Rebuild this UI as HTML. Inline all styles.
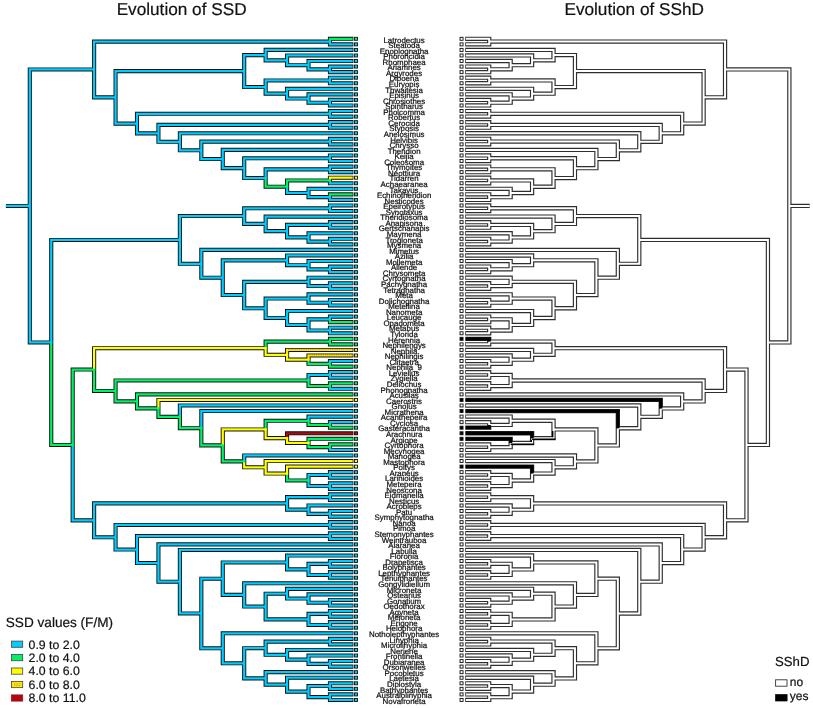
<!DOCTYPE html>
<html lang="en"><head><meta charset="utf-8"><title>Evolution of SSD and SShD</title>
<style>
html,body{margin:0;padding:0;background:#fff;}
body{width:813px;height:708px;overflow:hidden;font-family:"Liberation Sans",Arial,sans-serif;}
svg{display:block;}
</style></head><body>
<svg width="813" height="708" viewBox="0 0 813 708">
<rect width="813" height="708" fill="#fff"/>
<defs><filter id="soft" x="0" y="0" width="813" height="708" filterUnits="userSpaceOnUse"><feGaussianBlur stdDeviation="0.35"/></filter></defs>
<g filter="url(#soft)">
<path d="M5.9 205.95H29.8M29.8 205.95V69.46H94.12M94.12 69.46V41.58H329.96M329.96 41.58V38.8H353.4M329.96 41.58V44.36H353.4M94.12 69.46V97.33H115.56M115.56 97.33V71.09H244.2M244.2 71.09V55.12H265.64M265.64 55.12V49.91H353.4M265.64 55.12V60.33H287.08M287.08 60.33V55.47H353.4M287.08 60.33V65.19H308.52M308.52 65.19V61.02H353.4M308.52 65.19V69.36H329.96M329.96 69.36V66.58H353.4M329.96 69.36V72.14H353.4M244.2 71.09V87.07H265.64M265.64 87.07V80.47H329.96M329.96 80.47V77.69H353.4M329.96 80.47V83.25H353.4M265.64 87.07V93.66H287.08M287.08 93.66V88.8H353.4M287.08 93.66V98.53H308.52M308.52 98.53V94.36H353.4M308.52 98.53V102.69H329.96M329.96 102.69V99.91H353.4M329.96 102.69V105.47H353.4M115.56 97.33V123.58H137M137 123.58V113.8H329.96M329.96 113.8V111.03H353.4M329.96 113.8V116.58H353.4M137 123.58V133.35H158.44M158.44 133.35V124.92H329.96M329.96 124.92V122.14H353.4M329.96 124.92V127.69H353.4M158.44 133.35V141.78H179.88M179.88 141.78V133.25H353.4M179.88 141.78V150.31H201.32M201.32 150.31V141.58H329.96M329.96 141.58V138.81H353.4M329.96 141.58V144.36H353.4M201.32 150.31V159.03H222.76M222.76 159.03V149.92H353.4M222.76 159.03V168.15H244.2M244.2 168.15V158.25H329.96M329.96 158.25V155.47H353.4M329.96 158.25V161.03H353.4M244.2 168.15V178.04H265.64M265.64 178.04V169.36H329.96M329.96 169.36V166.59H353.4M329.96 169.36V172.14H353.4M265.64 178.04V186.73H287.08M287.08 186.73V180.47H329.96M329.96 180.47V177.7H353.4M329.96 180.47V183.25H353.4M287.08 186.73V192.98H308.52M308.52 192.98V188.81H353.4M308.52 192.98V197.14H329.96M329.96 197.14V194.36H353.4M329.96 197.14V199.92H353.4M29.8 205.95V342.44H51.24M51.24 342.44V239.94H179.88M179.88 239.94V216.07H244.2M244.2 216.07V208.25H329.96M329.96 208.25V205.48H353.4M329.96 208.25V211.03H353.4M244.2 216.07V223.88H265.64M265.64 223.88V216.59H353.4M265.64 223.88V231.17H287.08M287.08 231.17V224.92H329.96M329.96 224.92V222.14H353.4M329.96 224.92V227.7H353.4M287.08 231.17V237.42H308.52M308.52 237.42V233.26H353.4M308.52 237.42V241.59H329.96M329.96 241.59V238.81H353.4M329.96 241.59V244.37H353.4M179.88 239.94V263.81H201.32M201.32 263.81V249.92H353.4M201.32 263.81V277.7H222.76M222.76 277.7V260.34H287.08M287.08 260.34V255.48H353.4M287.08 260.34V265.2H308.52M308.52 265.2V261.04H353.4M308.52 265.2V269.37H329.96M329.96 269.37V266.59H353.4M329.96 269.37V272.15H353.4M222.76 277.7V295.07H244.2M244.2 295.07V281.87H308.52M308.52 281.87V277.7H353.4M308.52 281.87V286.04H329.96M329.96 286.04V283.26H353.4M329.96 286.04V288.81H353.4M244.2 295.07V308.26H265.64M265.64 308.26V298.54H308.52M308.52 298.54V294.37H353.4M308.52 298.54V302.7H329.96M329.96 302.7V299.93H353.4M329.96 302.7V305.48H353.4M265.64 308.26V317.98H287.08M287.08 317.98V311.04H353.4M287.08 317.98V324.93H308.52M308.52 324.93V319.37H329.96M329.96 319.37V316.59H353.4M329.96 319.37V322.15H353.4M308.52 324.93V330.48H329.96M329.96 330.48V327.71H353.4M329.96 330.48V333.26H353.4M51.24 342.44V444.95H72.68M72.68 444.95V369.56H94.12M94.12 369.56V348.19H265.64M265.64 348.19V341.6H329.96M329.96 341.6V338.82H353.4M329.96 341.6V344.37H353.4M265.64 348.19V354.79H287.08M287.08 354.79V349.93H353.4M287.08 354.79V359.65H308.52M308.52 359.65V355.49H353.4M308.52 359.65V363.82H329.96M329.96 363.82V361.04H353.4M329.96 363.82V366.6H353.4M94.12 369.56V390.94H115.56M115.56 390.94V380.49H308.52M308.52 380.49V374.93H329.96M329.96 374.93V372.15H353.4M329.96 374.93V377.71H353.4M308.52 380.49V386.04H329.96M329.96 386.04V383.26H353.4M329.96 386.04V388.82H353.4M115.56 390.94V401.39H137M137 401.39V394.38H353.4M137 401.39V408.4H158.44M158.44 408.4V399.93H353.4M158.44 408.4V416.86H179.88M179.88 416.86V405.49H353.4M179.88 416.86V428.23H201.32M201.32 428.23V411.04H353.4M201.32 428.23V445.42H222.76M222.76 445.42V429.45H265.64M265.64 429.45V420.77H308.52M308.52 420.77V416.6H353.4M308.52 420.77V424.93H329.96M329.96 424.93V422.16H353.4M329.96 424.93V427.71H353.4M265.64 429.45V438.13H287.08M287.08 438.13V433.27H353.4M287.08 438.13V442.99H308.52M308.52 442.99V438.82H353.4M308.52 442.99V447.16H329.96M329.96 447.16V444.38H353.4M329.96 447.16V449.94H353.4M222.76 445.42V461.39H244.2M244.2 461.39V455.49H353.4M244.2 461.39V467.3H265.64M265.64 467.3V461.05H353.4M265.64 467.3V473.55H287.08M287.08 473.55V466.6H353.4M287.08 473.55V480.49H308.52M308.52 480.49V474.94H329.96M329.96 474.94V472.16H353.4M329.96 474.94V477.71H353.4M308.52 480.49V486.05H329.96M329.96 486.05V483.27H353.4M329.96 486.05V488.83H353.4M72.68 444.95V520.33H94.12M94.12 520.33V503.41H287.08M287.08 503.41V497.16H329.96M329.96 497.16V494.38H353.4M329.96 497.16V499.94H353.4M287.08 503.41V509.66H308.52M308.52 509.66V505.49H353.4M308.52 509.66V513.83H329.96M329.96 513.83V511.05H353.4M329.96 513.83V516.61H353.4M94.12 520.33V537.25H115.56M115.56 537.25V524.94H329.96M329.96 524.94V522.16H353.4M329.96 524.94V527.72H353.4M115.56 537.25V549.55H137M137 549.55V536.05H329.96M329.96 536.05V533.27H353.4M329.96 536.05V538.83H353.4M137 549.55V563.05H158.44M158.44 563.05V544.39H353.4M158.44 563.05V581.71H179.88M179.88 581.71V549.94H353.4M179.88 581.71V613.49H201.32M201.32 613.49V578.68H222.76M222.76 578.68V562.44H287.08M287.08 562.44V555.5H353.4M287.08 562.44V569.39H308.52M308.52 569.39V563.83H329.96M329.96 563.83V561.05H353.4M329.96 563.83V566.61H353.4M308.52 569.39V574.94H329.96M329.96 574.94V572.16H353.4M329.96 574.94V577.72H353.4M222.76 578.68V594.91H244.2M244.2 594.91V583.28H353.4M244.2 594.91V606.54H265.64M265.64 606.54V593.69H287.08M287.08 593.69V588.83H353.4M287.08 593.69V598.56H308.52M308.52 598.56V594.39H353.4M308.52 598.56V602.72H329.96M329.96 602.72V599.94H353.4M329.96 602.72V605.5H353.4M265.64 606.54V619.39H308.52M308.52 619.39V613.83H329.96M329.96 613.83V611.06H353.4M329.96 613.83V616.61H353.4M308.52 619.39V624.95H329.96M329.96 624.95V622.17H353.4M329.96 624.95V627.72H353.4M201.32 613.49V648.3H222.76M222.76 648.3V633.28H353.4M222.76 648.3V663.32H244.2M244.2 663.32V648.21H265.64M265.64 648.21V641.61H329.96M329.96 641.61V638.84H353.4M329.96 641.61V644.39H353.4M265.64 648.21V654.81H287.08M287.08 654.81V649.95H353.4M287.08 654.81V659.67H308.52M308.52 659.67V655.5H353.4M308.52 659.67V663.84H329.96M329.96 663.84V661.06H353.4M329.96 663.84V666.61H353.4M244.2 663.32V678.42H265.64M265.64 678.42V672.17H353.4M265.64 678.42V684.67H287.08M287.08 684.67V677.73H353.4M287.08 684.67V691.62H308.52M308.52 691.62V686.06H329.96M329.96 686.06V683.28H353.4M329.96 686.06V688.84H353.4M308.52 691.62V697.17H329.96M329.96 697.17V694.39H353.4M329.96 697.17V699.95H353.4" fill="none" stroke="#111" stroke-width="4.1" stroke-linejoin="miter" stroke-linecap="butt"/>
<path d="M5.9 205.95H29.8M29.8 205.95V69.46H94.12M94.12 69.46V41.58H329.96M329.96 41.58V44.36H352.7M94.12 69.46V97.33H115.56M115.56 97.33V71.09H244.2M244.2 71.09V55.12H265.64M265.64 55.12V49.91H352.7M265.64 55.12V60.33H287.08M287.08 60.33V55.47H352.7M287.08 60.33V65.19H308.52M308.52 65.19V61.02H352.7M308.52 65.19V69.36H329.96M329.96 69.36V66.58H352.7M329.96 69.36V72.14H352.7M244.2 71.09V87.07H265.64M265.64 87.07V80.47H329.96M329.96 80.47V77.69H352.7M329.96 80.47V83.25H352.7M265.64 87.07V93.66H287.08M287.08 93.66V88.8H352.7M287.08 93.66V98.53H308.52M308.52 98.53V94.36H352.7M308.52 98.53V102.69H329.96M329.96 102.69V99.91H352.7M329.96 102.69V105.47H352.7M115.56 97.33V123.58H137M137 123.58V113.8H329.96M329.96 113.8V111.03H352.7M329.96 113.8V116.58H352.7M137 123.58V133.35H158.44M158.44 133.35V124.92H329.96M329.96 124.92V122.14H352.7M329.96 124.92V127.69H352.7M158.44 133.35V141.78H179.88M179.88 141.78V133.25H352.7M179.88 141.78V150.31H201.32M201.32 150.31V141.58H329.96M329.96 141.58V138.81H352.7M329.96 141.58V144.36H352.7M201.32 150.31V159.03H222.76M222.76 159.03V149.92H352.7M222.76 159.03V168.15H244.2M244.2 168.15V158.25H329.96M329.96 158.25V155.47H352.7M329.96 158.25V161.03H352.7M244.2 168.15V178.04H265.64M265.64 178.04V169.36H329.96M329.96 169.36V166.59H352.7M329.96 169.36V172.14H352.7M329.96 180.47V183.25H352.7M287.08 186.73V192.98H308.52M308.52 192.98V188.81H352.7M308.52 192.98V197.14H329.96M329.96 197.14V199.92H352.7M29.8 205.95V342.44H51.24M51.24 342.44V239.94H179.88M179.88 239.94V216.07H244.2M244.2 216.07V208.25H329.96M329.96 208.25V205.48H352.7M329.96 208.25V211.03H352.7M244.2 216.07V223.88H265.64M265.64 223.88V216.59H352.7M265.64 223.88V231.17H287.08M287.08 231.17V224.92H329.96M329.96 224.92V222.14H352.7M329.96 224.92V227.7H352.7M287.08 231.17V237.42H308.52M308.52 237.42V233.26H352.7M308.52 237.42V241.59H329.96M329.96 241.59V238.81H352.7M329.96 241.59V244.37H352.7M179.88 239.94V263.81H201.32M201.32 263.81V249.92H352.7M201.32 263.81V277.7H222.76M222.76 277.7V260.34H287.08M287.08 260.34V255.48H352.7M287.08 260.34V265.2H308.52M308.52 265.2V261.04H352.7M308.52 265.2V269.37H329.96M329.96 269.37V266.59H352.7M329.96 269.37V272.15H352.7M222.76 277.7V295.07H244.2M244.2 295.07V281.87H308.52M308.52 281.87V277.7H352.7M308.52 281.87V286.04H329.96M329.96 286.04V283.26H352.7M329.96 286.04V288.81H352.7M244.2 295.07V308.26H265.64M265.64 308.26V298.54H308.52M308.52 298.54V294.37H352.7M308.52 298.54V302.7H329.96M329.96 302.7V299.93H352.7M329.96 302.7V305.48H352.7M265.64 308.26V317.98H287.08M287.08 317.98V311.04H352.7M287.08 317.98V324.93H308.52M308.52 324.93V319.37H329.96M329.96 319.37V316.59H352.7M308.52 324.93V330.48H329.96M329.96 330.48V327.71H352.7M329.96 330.48V333.26H352.7M329.96 363.82V361.04H352.7M308.52 380.49V374.93H329.96M329.96 374.93V372.15H352.7M329.96 374.93V377.71H352.7M329.96 386.04V388.82H352.7M179.88 416.86V405.49H352.7M201.32 428.23V411.04H352.7M308.52 420.77V416.6H352.7M329.96 424.93V422.16H352.7M329.96 447.16V449.94H352.7M244.2 461.39V455.49H352.7M308.52 480.49V474.94H329.96M329.96 474.94V472.16H352.7M329.96 474.94V477.71H352.7M308.52 480.49V486.05H329.96M329.96 486.05V483.27H352.7M329.96 486.05V488.83H352.7M72.68 444.95V520.33H94.12M94.12 520.33V503.41H287.08M287.08 503.41V497.16H329.96M329.96 497.16V494.38H352.7M329.96 497.16V499.94H352.7M287.08 503.41V509.66H308.52M308.52 509.66V505.49H352.7M308.52 509.66V513.83H329.96M329.96 513.83V511.05H352.7M329.96 513.83V516.61H352.7M94.12 520.33V537.25H115.56M115.56 537.25V524.94H329.96M329.96 524.94V522.16H352.7M329.96 524.94V527.72H352.7M115.56 537.25V549.55H137M137 549.55V536.05H329.96M329.96 536.05V533.27H352.7M329.96 536.05V538.83H352.7M137 549.55V563.05H158.44M158.44 563.05V544.39H352.7M158.44 563.05V581.71H179.88M179.88 581.71V549.94H352.7M179.88 581.71V613.49H201.32M201.32 613.49V578.68H222.76M222.76 578.68V562.44H287.08M287.08 562.44V555.5H352.7M287.08 562.44V569.39H308.52M308.52 569.39V563.83H329.96M329.96 563.83V561.05H352.7M329.96 563.83V566.61H352.7M308.52 569.39V574.94H329.96M329.96 574.94V572.16H352.7M329.96 574.94V577.72H352.7M222.76 578.68V594.91H244.2M244.2 594.91V583.28H352.7M244.2 594.91V606.54H265.64M265.64 606.54V593.69H287.08M287.08 593.69V588.83H352.7M287.08 593.69V598.56H308.52M308.52 598.56V594.39H352.7M308.52 598.56V602.72H329.96M329.96 602.72V599.94H352.7M329.96 602.72V605.5H352.7M265.64 606.54V619.39H308.52M308.52 619.39V613.83H329.96M329.96 613.83V611.06H352.7M329.96 613.83V616.61H352.7M308.52 619.39V624.95H329.96M329.96 624.95V622.17H352.7M329.96 624.95V627.72H352.7M201.32 613.49V648.3H222.76M222.76 648.3V633.28H352.7M222.76 648.3V663.32H244.2M244.2 663.32V648.21H265.64M265.64 648.21V641.61H329.96M329.96 641.61V638.84H352.7M329.96 641.61V644.39H352.7M265.64 648.21V654.81H287.08M287.08 654.81V649.95H352.7M287.08 654.81V659.67H308.52M308.52 659.67V655.5H352.7M308.52 659.67V663.84H329.96M329.96 663.84V661.06H352.7M329.96 663.84V666.61H352.7M244.2 663.32V678.42H265.64M265.64 678.42V672.17H352.7M265.64 678.42V684.67H287.08M287.08 684.67V677.73H352.7M287.08 684.67V691.62H308.52M308.52 691.62V686.06H329.96M329.96 686.06V683.28H352.7M329.96 686.06V688.84H352.7M308.52 691.62V697.17H329.96M329.96 697.17V694.39H352.7M329.96 697.17V699.95H352.7" fill="none" stroke="#00ccff" stroke-width="2.25" stroke-linejoin="miter" stroke-linecap="butt"/>
<path d="M329.96 41.58V38.8H352.7M265.64 178.04V186.73H287.08M287.08 186.73V180.47H329.96M329.96 197.14V194.36H352.7M329.96 319.37V322.15H352.7M51.24 342.44V444.95H72.68M72.68 444.95V369.56H94.12M265.64 348.19V341.6H329.96M329.96 341.6V338.82H352.7M329.96 341.6V344.37H352.7M308.52 359.65V363.82H329.96M329.96 363.82V366.6H352.7M94.12 369.56V390.94H115.56M115.56 390.94V380.49H308.52M308.52 380.49V386.04H329.96M329.96 386.04V383.26H352.7M115.56 390.94V401.39H137M137 401.39V394.38H352.7M137 401.39V408.4H158.44M158.44 408.4V416.86H179.88M179.88 416.86V428.23H201.32M201.32 428.23V445.42H222.76M265.64 429.45V420.77H308.52M308.52 420.77V424.93H329.96M329.96 424.93V427.71H352.7M308.52 442.99V438.82H352.7M308.52 442.99V447.16H329.96M329.96 447.16V444.38H352.7M222.76 445.42V461.39H244.2M287.08 473.55V480.49H308.52" fill="none" stroke="#00f266" stroke-width="2.25" stroke-linejoin="miter" stroke-linecap="butt"/>
<path d="M329.96 180.47V177.7H352.7M94.12 369.56V348.19H265.64M265.64 348.19V354.79H287.08M287.08 354.79V359.65H308.52M158.44 408.4V399.93H352.7M222.76 445.42V429.45H265.64M265.64 429.45V438.13H287.08M287.08 438.13V442.99H308.52M244.2 461.39V467.3H265.64M265.64 467.3V461.05H352.7M265.64 467.3V473.55H287.08M287.08 473.55V466.6H352.7" fill="none" stroke="#ffff00" stroke-width="2.25" stroke-linejoin="miter" stroke-linecap="butt"/>
<path d="M287.08 354.79V349.93H352.7M308.52 359.65V355.49H352.7" fill="none" stroke="#ffe600" stroke-width="2.25" stroke-linejoin="miter" stroke-linecap="butt"/>
<path d="M287.08 438.13V433.27H352.7" fill="none" stroke="#aa0a14" stroke-width="2.25" stroke-linejoin="miter" stroke-linecap="butt"/>
<path d="M328.96 41.58H331.08M264.64 178.04H266.76M328.96 197.14H331.08M50.24 342.44H52.36M328.96 319.37H331.08" fill="none" stroke="#00ccff" stroke-width="2.25"/>
<path d="M286.08 186.73H288.2M328.96 180.47H331.08M71.68 444.95H73.8M93.12 369.56H95.24M328.96 363.82H331.08M307.52 380.49H309.64M328.96 386.04H331.08M157.44 408.4H159.56M178.88 416.86H181M200.32 428.23H202.44M221.76 445.42H223.88M307.52 420.77H309.64M328.96 424.93H331.08M328.96 447.16H331.08M243.2 461.39H245.32M307.52 480.49H309.64" fill="none" stroke="#00f266" stroke-width="2.25"/>
<path d="M264.64 348.19H266.76M286.08 354.79H288.2M307.52 359.65H309.64M264.64 429.45H266.76M286.08 438.13H288.2M307.52 442.99H309.64M286.08 473.55H288.2" fill="none" stroke="#ffff00" stroke-width="2.25"/>
<path d="M288.2 349.05H352.7M309.64 354.61H352.7M288.2 432.39H352.7" fill="none" stroke="#3a3000" stroke-opacity="0.75" stroke-width="0.8" stroke-dasharray="0.9 1.3"/>
<rect x="354.55" y="37.3" width="3" height="3" fill="#00f266" stroke="#111" stroke-width="0.9"/>
<rect x="354.55" y="42.86" width="3" height="3" fill="#00ccff" stroke="#111" stroke-width="0.9"/>
<rect x="354.55" y="48.41" width="3" height="3" fill="#00ccff" stroke="#111" stroke-width="0.9"/>
<rect x="354.55" y="53.97" width="3" height="3" fill="#00ccff" stroke="#111" stroke-width="0.9"/>
<rect x="354.55" y="59.52" width="3" height="3" fill="#00ccff" stroke="#111" stroke-width="0.9"/>
<rect x="354.55" y="65.08" width="3" height="3" fill="#00ccff" stroke="#111" stroke-width="0.9"/>
<rect x="354.55" y="70.64" width="3" height="3" fill="#00ccff" stroke="#111" stroke-width="0.9"/>
<rect x="354.55" y="76.19" width="3" height="3" fill="#00ccff" stroke="#111" stroke-width="0.9"/>
<rect x="354.55" y="81.75" width="3" height="3" fill="#00ccff" stroke="#111" stroke-width="0.9"/>
<rect x="354.55" y="87.3" width="3" height="3" fill="#00ccff" stroke="#111" stroke-width="0.9"/>
<rect x="354.55" y="92.86" width="3" height="3" fill="#00ccff" stroke="#111" stroke-width="0.9"/>
<rect x="354.55" y="98.41" width="3" height="3" fill="#00ccff" stroke="#111" stroke-width="0.9"/>
<rect x="354.55" y="103.97" width="3" height="3" fill="#00ccff" stroke="#111" stroke-width="0.9"/>
<rect x="354.55" y="109.53" width="3" height="3" fill="#00ccff" stroke="#111" stroke-width="0.9"/>
<rect x="354.55" y="115.08" width="3" height="3" fill="#00ccff" stroke="#111" stroke-width="0.9"/>
<rect x="354.55" y="120.64" width="3" height="3" fill="#00ccff" stroke="#111" stroke-width="0.9"/>
<rect x="354.55" y="126.19" width="3" height="3" fill="#00ccff" stroke="#111" stroke-width="0.9"/>
<rect x="354.55" y="131.75" width="3" height="3" fill="#00ccff" stroke="#111" stroke-width="0.9"/>
<rect x="354.55" y="137.31" width="3" height="3" fill="#00ccff" stroke="#111" stroke-width="0.9"/>
<rect x="354.55" y="142.86" width="3" height="3" fill="#00ccff" stroke="#111" stroke-width="0.9"/>
<rect x="354.55" y="148.42" width="3" height="3" fill="#00ccff" stroke="#111" stroke-width="0.9"/>
<rect x="354.55" y="153.97" width="3" height="3" fill="#00ccff" stroke="#111" stroke-width="0.9"/>
<rect x="354.55" y="159.53" width="3" height="3" fill="#00ccff" stroke="#111" stroke-width="0.9"/>
<rect x="354.55" y="165.09" width="3" height="3" fill="#00ccff" stroke="#111" stroke-width="0.9"/>
<rect x="354.55" y="170.64" width="3" height="3" fill="#00ccff" stroke="#111" stroke-width="0.9"/>
<rect x="354.55" y="176.2" width="3" height="3" fill="#ffff00" stroke="#111" stroke-width="0.9"/>
<rect x="354.55" y="181.75" width="3" height="3" fill="#00ccff" stroke="#111" stroke-width="0.9"/>
<rect x="354.55" y="187.31" width="3" height="3" fill="#00ccff" stroke="#111" stroke-width="0.9"/>
<rect x="354.55" y="192.86" width="3" height="3" fill="#00f266" stroke="#111" stroke-width="0.9"/>
<rect x="354.55" y="198.42" width="3" height="3" fill="#00ccff" stroke="#111" stroke-width="0.9"/>
<rect x="354.55" y="203.98" width="3" height="3" fill="#00ccff" stroke="#111" stroke-width="0.9"/>
<rect x="354.55" y="209.53" width="3" height="3" fill="#00ccff" stroke="#111" stroke-width="0.9"/>
<rect x="354.55" y="215.09" width="3" height="3" fill="#00ccff" stroke="#111" stroke-width="0.9"/>
<rect x="354.55" y="220.64" width="3" height="3" fill="#00ccff" stroke="#111" stroke-width="0.9"/>
<rect x="354.55" y="226.2" width="3" height="3" fill="#00ccff" stroke="#111" stroke-width="0.9"/>
<rect x="354.55" y="231.76" width="3" height="3" fill="#00ccff" stroke="#111" stroke-width="0.9"/>
<rect x="354.55" y="237.31" width="3" height="3" fill="#00ccff" stroke="#111" stroke-width="0.9"/>
<rect x="354.55" y="242.87" width="3" height="3" fill="#00ccff" stroke="#111" stroke-width="0.9"/>
<rect x="354.55" y="248.42" width="3" height="3" fill="#00ccff" stroke="#111" stroke-width="0.9"/>
<rect x="354.55" y="253.98" width="3" height="3" fill="#00ccff" stroke="#111" stroke-width="0.9"/>
<rect x="354.55" y="259.54" width="3" height="3" fill="#00ccff" stroke="#111" stroke-width="0.9"/>
<rect x="354.55" y="265.09" width="3" height="3" fill="#00ccff" stroke="#111" stroke-width="0.9"/>
<rect x="354.55" y="270.65" width="3" height="3" fill="#00ccff" stroke="#111" stroke-width="0.9"/>
<rect x="354.55" y="276.2" width="3" height="3" fill="#00ccff" stroke="#111" stroke-width="0.9"/>
<rect x="354.55" y="281.76" width="3" height="3" fill="#00ccff" stroke="#111" stroke-width="0.9"/>
<rect x="354.55" y="287.31" width="3" height="3" fill="#00ccff" stroke="#111" stroke-width="0.9"/>
<rect x="354.55" y="292.87" width="3" height="3" fill="#00ccff" stroke="#111" stroke-width="0.9"/>
<rect x="354.55" y="298.43" width="3" height="3" fill="#00ccff" stroke="#111" stroke-width="0.9"/>
<rect x="354.55" y="303.98" width="3" height="3" fill="#00ccff" stroke="#111" stroke-width="0.9"/>
<rect x="354.55" y="309.54" width="3" height="3" fill="#00ccff" stroke="#111" stroke-width="0.9"/>
<rect x="354.55" y="315.09" width="3" height="3" fill="#00ccff" stroke="#111" stroke-width="0.9"/>
<rect x="354.55" y="320.65" width="3" height="3" fill="#00f266" stroke="#111" stroke-width="0.9"/>
<rect x="354.55" y="326.21" width="3" height="3" fill="#00ccff" stroke="#111" stroke-width="0.9"/>
<rect x="354.55" y="331.76" width="3" height="3" fill="#00ccff" stroke="#111" stroke-width="0.9"/>
<rect x="354.55" y="337.32" width="3" height="3" fill="#00f266" stroke="#111" stroke-width="0.9"/>
<rect x="354.55" y="342.87" width="3" height="3" fill="#00f266" stroke="#111" stroke-width="0.9"/>
<rect x="354.55" y="348.43" width="3" height="3" fill="#ffe600" stroke="#111" stroke-width="0.9"/>
<rect x="354.55" y="353.99" width="3" height="3" fill="#ffe600" stroke="#111" stroke-width="0.9"/>
<rect x="354.55" y="359.54" width="3" height="3" fill="#00ccff" stroke="#111" stroke-width="0.9"/>
<rect x="354.55" y="365.1" width="3" height="3" fill="#00f266" stroke="#111" stroke-width="0.9"/>
<rect x="354.55" y="370.65" width="3" height="3" fill="#00ccff" stroke="#111" stroke-width="0.9"/>
<rect x="354.55" y="376.21" width="3" height="3" fill="#00ccff" stroke="#111" stroke-width="0.9"/>
<rect x="354.55" y="381.76" width="3" height="3" fill="#00f266" stroke="#111" stroke-width="0.9"/>
<rect x="354.55" y="387.32" width="3" height="3" fill="#00ccff" stroke="#111" stroke-width="0.9"/>
<rect x="354.55" y="392.88" width="3" height="3" fill="#00f266" stroke="#111" stroke-width="0.9"/>
<rect x="354.55" y="398.43" width="3" height="3" fill="#ffff00" stroke="#111" stroke-width="0.9"/>
<rect x="354.55" y="403.99" width="3" height="3" fill="#00ccff" stroke="#111" stroke-width="0.9"/>
<rect x="354.55" y="409.54" width="3" height="3" fill="#00ccff" stroke="#111" stroke-width="0.9"/>
<rect x="354.55" y="415.1" width="3" height="3" fill="#00ccff" stroke="#111" stroke-width="0.9"/>
<rect x="354.55" y="420.66" width="3" height="3" fill="#00ccff" stroke="#111" stroke-width="0.9"/>
<rect x="354.55" y="426.21" width="3" height="3" fill="#00f266" stroke="#111" stroke-width="0.9"/>
<rect x="354.55" y="431.77" width="3" height="3" fill="#aa0a14" stroke="#111" stroke-width="0.9"/>
<rect x="354.55" y="437.32" width="3" height="3" fill="#00f266" stroke="#111" stroke-width="0.9"/>
<rect x="354.55" y="442.88" width="3" height="3" fill="#00f266" stroke="#111" stroke-width="0.9"/>
<rect x="354.55" y="448.44" width="3" height="3" fill="#00ccff" stroke="#111" stroke-width="0.9"/>
<rect x="354.55" y="453.99" width="3" height="3" fill="#00ccff" stroke="#111" stroke-width="0.9"/>
<rect x="354.55" y="459.55" width="3" height="3" fill="#ffff00" stroke="#111" stroke-width="0.9"/>
<rect x="354.55" y="465.1" width="3" height="3" fill="#ffff00" stroke="#111" stroke-width="0.9"/>
<rect x="354.55" y="470.66" width="3" height="3" fill="#00ccff" stroke="#111" stroke-width="0.9"/>
<rect x="354.55" y="476.21" width="3" height="3" fill="#00ccff" stroke="#111" stroke-width="0.9"/>
<rect x="354.55" y="481.77" width="3" height="3" fill="#00ccff" stroke="#111" stroke-width="0.9"/>
<rect x="354.55" y="487.33" width="3" height="3" fill="#00ccff" stroke="#111" stroke-width="0.9"/>
<rect x="354.55" y="492.88" width="3" height="3" fill="#00ccff" stroke="#111" stroke-width="0.9"/>
<rect x="354.55" y="498.44" width="3" height="3" fill="#00ccff" stroke="#111" stroke-width="0.9"/>
<rect x="354.55" y="503.99" width="3" height="3" fill="#00ccff" stroke="#111" stroke-width="0.9"/>
<rect x="354.55" y="509.55" width="3" height="3" fill="#00ccff" stroke="#111" stroke-width="0.9"/>
<rect x="354.55" y="515.11" width="3" height="3" fill="#00ccff" stroke="#111" stroke-width="0.9"/>
<rect x="354.55" y="520.66" width="3" height="3" fill="#00ccff" stroke="#111" stroke-width="0.9"/>
<rect x="354.55" y="526.22" width="3" height="3" fill="#00ccff" stroke="#111" stroke-width="0.9"/>
<rect x="354.55" y="531.77" width="3" height="3" fill="#00ccff" stroke="#111" stroke-width="0.9"/>
<rect x="354.55" y="537.33" width="3" height="3" fill="#00ccff" stroke="#111" stroke-width="0.9"/>
<rect x="354.55" y="542.89" width="3" height="3" fill="#00ccff" stroke="#111" stroke-width="0.9"/>
<rect x="354.55" y="548.44" width="3" height="3" fill="#00ccff" stroke="#111" stroke-width="0.9"/>
<rect x="354.55" y="554" width="3" height="3" fill="#00ccff" stroke="#111" stroke-width="0.9"/>
<rect x="354.55" y="559.55" width="3" height="3" fill="#00ccff" stroke="#111" stroke-width="0.9"/>
<rect x="354.55" y="565.11" width="3" height="3" fill="#00ccff" stroke="#111" stroke-width="0.9"/>
<rect x="354.55" y="570.66" width="3" height="3" fill="#00ccff" stroke="#111" stroke-width="0.9"/>
<rect x="354.55" y="576.22" width="3" height="3" fill="#00ccff" stroke="#111" stroke-width="0.9"/>
<rect x="354.55" y="581.78" width="3" height="3" fill="#00ccff" stroke="#111" stroke-width="0.9"/>
<rect x="354.55" y="587.33" width="3" height="3" fill="#00ccff" stroke="#111" stroke-width="0.9"/>
<rect x="354.55" y="592.89" width="3" height="3" fill="#00ccff" stroke="#111" stroke-width="0.9"/>
<rect x="354.55" y="598.44" width="3" height="3" fill="#00ccff" stroke="#111" stroke-width="0.9"/>
<rect x="354.55" y="604" width="3" height="3" fill="#00ccff" stroke="#111" stroke-width="0.9"/>
<rect x="354.55" y="609.56" width="3" height="3" fill="#00ccff" stroke="#111" stroke-width="0.9"/>
<rect x="354.55" y="615.11" width="3" height="3" fill="#00ccff" stroke="#111" stroke-width="0.9"/>
<rect x="354.55" y="620.67" width="3" height="3" fill="#00ccff" stroke="#111" stroke-width="0.9"/>
<rect x="354.55" y="626.22" width="3" height="3" fill="#00ccff" stroke="#111" stroke-width="0.9"/>
<rect x="354.55" y="631.78" width="3" height="3" fill="#00ccff" stroke="#111" stroke-width="0.9"/>
<rect x="354.55" y="637.34" width="3" height="3" fill="#00ccff" stroke="#111" stroke-width="0.9"/>
<rect x="354.55" y="642.89" width="3" height="3" fill="#00ccff" stroke="#111" stroke-width="0.9"/>
<rect x="354.55" y="648.45" width="3" height="3" fill="#00ccff" stroke="#111" stroke-width="0.9"/>
<rect x="354.55" y="654" width="3" height="3" fill="#00ccff" stroke="#111" stroke-width="0.9"/>
<rect x="354.55" y="659.56" width="3" height="3" fill="#00ccff" stroke="#111" stroke-width="0.9"/>
<rect x="354.55" y="665.11" width="3" height="3" fill="#00ccff" stroke="#111" stroke-width="0.9"/>
<rect x="354.55" y="670.67" width="3" height="3" fill="#00ccff" stroke="#111" stroke-width="0.9"/>
<rect x="354.55" y="676.23" width="3" height="3" fill="#00ccff" stroke="#111" stroke-width="0.9"/>
<rect x="354.55" y="681.78" width="3" height="3" fill="#00ccff" stroke="#111" stroke-width="0.9"/>
<rect x="354.55" y="687.34" width="3" height="3" fill="#00ccff" stroke="#111" stroke-width="0.9"/>
<rect x="354.55" y="692.89" width="3" height="3" fill="#00ccff" stroke="#111" stroke-width="0.9"/>
<rect x="354.55" y="698.45" width="3" height="3" fill="#00ccff" stroke="#111" stroke-width="0.9"/>
<path d="M809.7 205.95H789.36M789.36 205.95V69.46H725.04M725.04 69.46V41.58H489.2M489.2 41.58V38.8H465.2M489.2 41.58V44.36H465.2M725.04 69.46V97.33H703.6M703.6 97.33V71.09H574.96M574.96 71.09V55.12H553.52M553.52 55.12V49.91H465.2M553.52 55.12V60.33H532.08M532.08 60.33V55.47H465.2M532.08 60.33V65.19H510.64M510.64 65.19V61.02H465.2M510.64 65.19V69.36H489.2M489.2 69.36V66.58H465.2M489.2 69.36V72.14H465.2M574.96 71.09V87.07H553.52M553.52 87.07V80.47H489.2M489.2 80.47V77.69H465.2M489.2 80.47V83.25H465.2M553.52 87.07V93.66H532.08M532.08 93.66V88.8H465.2M532.08 93.66V98.53H510.64M510.64 98.53V94.36H465.2M510.64 98.53V102.69H489.2M489.2 102.69V99.91H465.2M489.2 102.69V105.47H465.2M703.6 97.33V123.58H682.16M682.16 123.58V113.8H489.2M489.2 113.8V111.03H465.2M489.2 113.8V116.58H465.2M682.16 123.58V133.35H660.72M660.72 133.35V124.92H489.2M489.2 124.92V122.14H465.2M489.2 124.92V127.69H465.2M660.72 133.35V141.78H639.28M639.28 141.78V133.25H465.2M639.28 141.78V150.31H617.84M617.84 150.31V141.58H489.2M489.2 141.58V138.81H465.2M489.2 141.58V144.36H465.2M617.84 150.31V159.03H596.4M596.4 159.03V149.92H465.2M596.4 159.03V168.15H574.96M574.96 168.15V158.25H489.2M489.2 158.25V155.47H465.2M489.2 158.25V161.03H465.2M574.96 168.15V178.04H553.52M553.52 178.04V169.36H489.2M489.2 169.36V166.59H465.2M489.2 169.36V172.14H465.2M553.52 178.04V186.73H532.08M532.08 186.73V180.47H489.2M489.2 180.47V177.7H465.2M489.2 180.47V183.25H465.2M532.08 186.73V192.98H510.64M510.64 192.98V188.81H465.2M510.64 192.98V197.14H489.2M489.2 197.14V194.36H465.2M489.2 197.14V199.92H465.2M789.36 205.95V342.44H767.92M767.92 342.44V239.94H639.28M639.28 239.94V216.07H574.96M574.96 216.07V208.25H489.2M489.2 208.25V205.48H465.2M489.2 208.25V211.03H465.2M574.96 216.07V223.88H553.52M553.52 223.88V216.59H465.2M553.52 223.88V231.17H532.08M532.08 231.17V224.92H489.2M489.2 224.92V222.14H465.2M489.2 224.92V227.7H465.2M532.08 231.17V237.42H510.64M510.64 237.42V233.26H465.2M510.64 237.42V241.59H489.2M489.2 241.59V238.81H465.2M489.2 241.59V244.37H465.2M639.28 239.94V263.81H617.84M617.84 263.81V249.92H465.2M617.84 263.81V277.7H596.4M596.4 277.7V260.34H532.08M532.08 260.34V255.48H465.2M532.08 260.34V265.2H510.64M510.64 265.2V261.04H465.2M510.64 265.2V269.37H489.2M489.2 269.37V266.59H465.2M489.2 269.37V272.15H465.2M596.4 277.7V295.07H574.96M574.96 295.07V281.87H510.64M510.64 281.87V277.7H465.2M510.64 281.87V286.04H489.2M489.2 286.04V283.26H465.2M489.2 286.04V288.81H465.2M574.96 295.07V308.26H553.52M553.52 308.26V298.54H510.64M510.64 298.54V294.37H465.2M510.64 298.54V302.7H489.2M489.2 302.7V299.93H465.2M489.2 302.7V305.48H465.2M553.52 308.26V317.98H532.08M532.08 317.98V311.04H465.2M532.08 317.98V324.93H510.64M510.64 324.93V319.37H489.2M489.2 319.37V316.59H465.2M489.2 319.37V322.15H465.2M510.64 324.93V330.48H489.2M489.2 330.48V327.71H465.2M489.2 330.48V333.26H465.2M767.92 342.44V444.95H746.48M746.48 444.95V369.56H725.04M725.04 369.56V348.19H553.52M553.52 348.19V341.6H489.2M489.2 341.6V338.82H465.2M489.2 341.6V344.37H465.2M553.52 348.19V354.79H532.08M532.08 354.79V349.93H465.2M532.08 354.79V359.65H510.64M510.64 359.65V355.49H465.2M510.64 359.65V363.82H489.2M489.2 363.82V361.04H465.2M489.2 363.82V366.6H465.2M725.04 369.56V390.94H703.6M703.6 390.94V380.49H510.64M510.64 380.49V374.93H489.2M489.2 374.93V372.15H465.2M489.2 374.93V377.71H465.2M510.64 380.49V386.04H489.2M489.2 386.04V383.26H465.2M489.2 386.04V388.82H465.2M703.6 390.94V401.39H682.16M682.16 401.39V394.38H465.2M682.16 401.39V408.4H660.72M660.72 408.4V399.93H465.2M660.72 408.4V416.86H639.28M639.28 416.86V405.49H465.2M639.28 416.86V428.23H617.84M617.84 428.23V411.04H465.2M617.84 428.23V445.42H596.4M596.4 445.42V429.45H553.52M553.52 429.45V420.77H510.64M510.64 420.77V416.6H465.2M510.64 420.77V424.93H489.2M489.2 424.93V422.16H465.2M489.2 424.93V427.71H465.2M553.52 429.45V438.13H532.08M532.08 438.13V433.27H465.2M532.08 438.13V442.99H510.64M510.64 442.99V438.82H465.2M510.64 442.99V447.16H489.2M489.2 447.16V444.38H465.2M489.2 447.16V449.94H465.2M596.4 445.42V461.39H574.96M574.96 461.39V455.49H465.2M574.96 461.39V467.3H553.52M553.52 467.3V461.05H465.2M553.52 467.3V473.55H532.08M532.08 473.55V466.6H465.2M532.08 473.55V480.49H510.64M510.64 480.49V474.94H489.2M489.2 474.94V472.16H465.2M489.2 474.94V477.71H465.2M510.64 480.49V486.05H489.2M489.2 486.05V483.27H465.2M489.2 486.05V488.83H465.2M746.48 444.95V520.33H725.04M725.04 520.33V503.41H532.08M532.08 503.41V497.16H489.2M489.2 497.16V494.38H465.2M489.2 497.16V499.94H465.2M532.08 503.41V509.66H510.64M510.64 509.66V505.49H465.2M510.64 509.66V513.83H489.2M489.2 513.83V511.05H465.2M489.2 513.83V516.61H465.2M725.04 520.33V537.25H703.6M703.6 537.25V524.94H489.2M489.2 524.94V522.16H465.2M489.2 524.94V527.72H465.2M703.6 537.25V549.55H682.16M682.16 549.55V536.05H489.2M489.2 536.05V533.27H465.2M489.2 536.05V538.83H465.2M682.16 549.55V563.05H660.72M660.72 563.05V544.39H465.2M660.72 563.05V581.71H639.28M639.28 581.71V549.94H465.2M639.28 581.71V613.49H617.84M617.84 613.49V578.68H596.4M596.4 578.68V562.44H532.08M532.08 562.44V555.5H465.2M532.08 562.44V569.39H510.64M510.64 569.39V563.83H489.2M489.2 563.83V561.05H465.2M489.2 563.83V566.61H465.2M510.64 569.39V574.94H489.2M489.2 574.94V572.16H465.2M489.2 574.94V577.72H465.2M596.4 578.68V594.91H574.96M574.96 594.91V583.28H465.2M574.96 594.91V606.54H553.52M553.52 606.54V593.69H532.08M532.08 593.69V588.83H465.2M532.08 593.69V598.56H510.64M510.64 598.56V594.39H465.2M510.64 598.56V602.72H489.2M489.2 602.72V599.94H465.2M489.2 602.72V605.5H465.2M553.52 606.54V619.39H510.64M510.64 619.39V613.83H489.2M489.2 613.83V611.06H465.2M489.2 613.83V616.61H465.2M510.64 619.39V624.95H489.2M489.2 624.95V622.17H465.2M489.2 624.95V627.72H465.2M617.84 613.49V648.3H596.4M596.4 648.3V633.28H465.2M596.4 648.3V663.32H574.96M574.96 663.32V648.21H553.52M553.52 648.21V641.61H489.2M489.2 641.61V638.84H465.2M489.2 641.61V644.39H465.2M553.52 648.21V654.81H532.08M532.08 654.81V649.95H465.2M532.08 654.81V659.67H510.64M510.64 659.67V655.5H465.2M510.64 659.67V663.84H489.2M489.2 663.84V661.06H465.2M489.2 663.84V666.61H465.2M574.96 663.32V678.42H553.52M553.52 678.42V672.17H465.2M553.52 678.42V684.67H532.08M532.08 684.67V677.73H465.2M532.08 684.67V691.62H510.64M510.64 691.62V686.06H489.2M489.2 686.06V683.28H465.2M489.2 686.06V688.84H465.2M510.64 691.62V697.17H489.2M489.2 697.17V694.39H465.2M489.2 697.17V699.95H465.2" fill="none" stroke="#2e2e2e" stroke-width="4.3" stroke-linejoin="miter" stroke-linecap="butt"/>
<path d="M809.7 205.95H789.36M789.36 205.95V69.46H725.04M725.04 69.46V41.58H489.2M489.2 41.58V38.8H465.9M489.2 41.58V44.36H465.9M725.04 69.46V97.33H703.6M703.6 97.33V71.09H574.96M574.96 71.09V55.12H553.52M553.52 55.12V49.91H465.9M553.52 55.12V60.33H532.08M532.08 60.33V55.47H465.9M532.08 60.33V65.19H510.64M510.64 65.19V61.02H465.9M510.64 65.19V69.36H489.2M489.2 69.36V66.58H465.9M489.2 69.36V72.14H465.9M574.96 71.09V87.07H553.52M553.52 87.07V80.47H489.2M489.2 80.47V77.69H465.9M489.2 80.47V83.25H465.9M553.52 87.07V93.66H532.08M532.08 93.66V88.8H465.9M532.08 93.66V98.53H510.64M510.64 98.53V94.36H465.9M510.64 98.53V102.69H489.2M489.2 102.69V99.91H465.9M489.2 102.69V105.47H465.9M703.6 97.33V123.58H682.16M682.16 123.58V113.8H489.2M489.2 113.8V111.03H465.9M489.2 113.8V116.58H465.9M682.16 123.58V133.35H660.72M660.72 133.35V124.92H489.2M489.2 124.92V122.14H465.9M489.2 124.92V127.69H465.9M660.72 133.35V141.78H639.28M639.28 141.78V133.25H465.9M639.28 141.78V150.31H617.84M617.84 150.31V141.58H489.2M489.2 141.58V138.81H465.9M489.2 141.58V144.36H465.9M617.84 150.31V159.03H596.4M596.4 159.03V149.92H465.9M596.4 159.03V168.15H574.96M574.96 168.15V158.25H489.2M489.2 158.25V155.47H465.9M489.2 158.25V161.03H465.9M574.96 168.15V178.04H553.52M553.52 178.04V169.36H489.2M489.2 169.36V166.59H465.9M489.2 169.36V172.14H465.9M553.52 178.04V186.73H532.08M532.08 186.73V180.47H489.2M489.2 180.47V177.7H465.9M489.2 180.47V183.25H465.9M532.08 186.73V192.98H510.64M510.64 192.98V188.81H465.9M510.64 192.98V197.14H489.2M489.2 197.14V194.36H465.9M489.2 197.14V199.92H465.9M789.36 205.95V342.44H767.92M767.92 342.44V239.94H639.28M639.28 239.94V216.07H574.96M574.96 216.07V208.25H489.2M489.2 208.25V205.48H465.9M489.2 208.25V211.03H465.9M574.96 216.07V223.88H553.52M553.52 223.88V216.59H465.9M553.52 223.88V231.17H532.08M532.08 231.17V224.92H489.2M489.2 224.92V222.14H465.9M489.2 224.92V227.7H465.9M532.08 231.17V237.42H510.64M510.64 237.42V233.26H465.9M510.64 237.42V241.59H489.2M489.2 241.59V238.81H465.9M489.2 241.59V244.37H465.9M639.28 239.94V263.81H617.84M617.84 263.81V249.92H465.9M617.84 263.81V277.7H596.4M596.4 277.7V260.34H532.08M532.08 260.34V255.48H465.9M532.08 260.34V265.2H510.64M510.64 265.2V261.04H465.9M510.64 265.2V269.37H489.2M489.2 269.37V266.59H465.9M489.2 269.37V272.15H465.9M596.4 277.7V295.07H574.96M574.96 295.07V281.87H510.64M510.64 281.87V277.7H465.9M510.64 281.87V286.04H489.2M489.2 286.04V283.26H465.9M489.2 286.04V288.81H465.9M574.96 295.07V308.26H553.52M553.52 308.26V298.54H510.64M510.64 298.54V294.37H465.9M510.64 298.54V302.7H489.2M489.2 302.7V299.93H465.9M489.2 302.7V305.48H465.9M553.52 308.26V317.98H532.08M532.08 317.98V311.04H465.9M532.08 317.98V324.93H510.64M510.64 324.93V319.37H489.2M489.2 319.37V316.59H465.9M489.2 319.37V322.15H465.9M510.64 324.93V330.48H489.2M489.2 330.48V327.71H465.9M489.2 330.48V333.26H465.9M767.92 342.44V444.95H746.48M746.48 444.95V369.56H725.04M725.04 369.56V348.19H553.52M553.52 348.19V341.6H489.2M489.2 341.6V344.37H465.9M553.52 348.19V354.79H532.08M532.08 354.79V349.93H465.9M532.08 354.79V359.65H510.64M510.64 359.65V355.49H465.9M510.64 359.65V363.82H489.2M489.2 363.82V361.04H465.9M489.2 363.82V366.6H465.9M725.04 369.56V390.94H703.6M703.6 390.94V380.49H510.64M510.64 380.49V374.93H489.2M489.2 374.93V372.15H465.9M489.2 374.93V377.71H465.9M510.64 380.49V386.04H489.2M489.2 386.04V383.26H465.9M489.2 386.04V388.82H465.9M703.6 390.94V401.39H682.16M682.16 401.39V394.38H465.9M682.16 401.39V408.4H660.72M660.72 408.4V416.86H639.28M639.28 416.86V405.49H465.9M639.28 416.86V428.23H617.84M617.84 428.23V445.42H596.4M596.4 445.42V429.45H553.52M553.52 429.45V420.77H510.64M510.64 420.77V416.6H465.9M510.64 420.77V424.93H489.2M489.2 424.93V422.16H465.9M553.52 429.45V438.13H532.08M532.08 438.13V442.99H510.64M510.64 442.99V447.16H489.2M489.2 447.16V444.38H465.9M489.2 447.16V449.94H465.9M596.4 445.42V461.39H574.96M574.96 461.39V455.49H465.9M574.96 461.39V467.3H553.52M553.52 467.3V461.05H465.9M553.52 467.3V473.55H532.08M532.08 473.55V480.49H510.64M510.64 480.49V474.94H489.2M489.2 474.94V472.16H465.9M489.2 474.94V477.71H465.9M510.64 480.49V486.05H489.2M489.2 486.05V483.27H465.9M489.2 486.05V488.83H465.9M746.48 444.95V520.33H725.04M725.04 520.33V503.41H532.08M532.08 503.41V497.16H489.2M489.2 497.16V494.38H465.9M489.2 497.16V499.94H465.9M532.08 503.41V509.66H510.64M510.64 509.66V505.49H465.9M510.64 509.66V513.83H489.2M489.2 513.83V511.05H465.9M489.2 513.83V516.61H465.9M725.04 520.33V537.25H703.6M703.6 537.25V524.94H489.2M489.2 524.94V522.16H465.9M489.2 524.94V527.72H465.9M703.6 537.25V549.55H682.16M682.16 549.55V536.05H489.2M489.2 536.05V533.27H465.9M489.2 536.05V538.83H465.9M682.16 549.55V563.05H660.72M660.72 563.05V544.39H465.9M660.72 563.05V581.71H639.28M639.28 581.71V549.94H465.9M639.28 581.71V613.49H617.84M617.84 613.49V578.68H596.4M596.4 578.68V562.44H532.08M532.08 562.44V555.5H465.9M532.08 562.44V569.39H510.64M510.64 569.39V563.83H489.2M489.2 563.83V561.05H465.9M489.2 563.83V566.61H465.9M510.64 569.39V574.94H489.2M489.2 574.94V572.16H465.9M489.2 574.94V577.72H465.9M596.4 578.68V594.91H574.96M574.96 594.91V583.28H465.9M574.96 594.91V606.54H553.52M553.52 606.54V593.69H532.08M532.08 593.69V588.83H465.9M532.08 593.69V598.56H510.64M510.64 598.56V594.39H465.9M510.64 598.56V602.72H489.2M489.2 602.72V599.94H465.9M489.2 602.72V605.5H465.9M553.52 606.54V619.39H510.64M510.64 619.39V613.83H489.2M489.2 613.83V611.06H465.9M489.2 613.83V616.61H465.9M510.64 619.39V624.95H489.2M489.2 624.95V622.17H465.9M489.2 624.95V627.72H465.9M617.84 613.49V648.3H596.4M596.4 648.3V633.28H465.9M596.4 648.3V663.32H574.96M574.96 663.32V648.21H553.52M553.52 648.21V641.61H489.2M489.2 641.61V638.84H465.9M489.2 641.61V644.39H465.9M553.52 648.21V654.81H532.08M532.08 654.81V649.95H465.9M532.08 654.81V659.67H510.64M510.64 659.67V655.5H465.9M510.64 659.67V663.84H489.2M489.2 663.84V661.06H465.9M489.2 663.84V666.61H465.9M574.96 663.32V678.42H553.52M553.52 678.42V672.17H465.9M553.52 678.42V684.67H532.08M532.08 684.67V677.73H465.9M532.08 684.67V691.62H510.64M510.64 691.62V686.06H489.2M489.2 686.06V683.28H465.9M489.2 686.06V688.84H465.9M510.64 691.62V697.17H489.2M489.2 697.17V694.39H465.9M489.2 697.17V699.95H465.9" fill="none" stroke="#fff" stroke-width="2.0" stroke-linejoin="miter" stroke-linecap="butt"/>
<path d="M489.2 341.6V338.82H465.9M660.72 408.4V399.93H465.9M617.84 428.23V411.04H465.9M489.2 424.93V427.71H465.9M532.08 438.13V433.27H465.9M510.64 442.99V438.82H465.9M532.08 473.55V466.6H465.9" fill="none" stroke="#000" stroke-width="3.3" stroke-linejoin="miter" stroke-linecap="butt"/>
<path d="M552.67 431.05V437.23M532.08 439.28H555.47M531.23 439.73V442.09M510.64 444.14H534.03" fill="none" stroke="#000" stroke-width="1.5"/>
<rect x="460.05" y="37.3" width="3" height="3" fill="#fff" stroke="#111" stroke-width="0.9"/>
<rect x="460.05" y="42.86" width="3" height="3" fill="#fff" stroke="#111" stroke-width="0.9"/>
<rect x="460.05" y="48.41" width="3" height="3" fill="#fff" stroke="#111" stroke-width="0.9"/>
<rect x="460.05" y="53.97" width="3" height="3" fill="#fff" stroke="#111" stroke-width="0.9"/>
<rect x="460.05" y="59.52" width="3" height="3" fill="#fff" stroke="#111" stroke-width="0.9"/>
<rect x="460.05" y="65.08" width="3" height="3" fill="#fff" stroke="#111" stroke-width="0.9"/>
<rect x="460.05" y="70.64" width="3" height="3" fill="#fff" stroke="#111" stroke-width="0.9"/>
<rect x="460.05" y="76.19" width="3" height="3" fill="#fff" stroke="#111" stroke-width="0.9"/>
<rect x="460.05" y="81.75" width="3" height="3" fill="#fff" stroke="#111" stroke-width="0.9"/>
<rect x="460.05" y="87.3" width="3" height="3" fill="#fff" stroke="#111" stroke-width="0.9"/>
<rect x="460.05" y="92.86" width="3" height="3" fill="#fff" stroke="#111" stroke-width="0.9"/>
<rect x="460.05" y="98.41" width="3" height="3" fill="#fff" stroke="#111" stroke-width="0.9"/>
<rect x="460.05" y="103.97" width="3" height="3" fill="#fff" stroke="#111" stroke-width="0.9"/>
<rect x="460.05" y="109.53" width="3" height="3" fill="#fff" stroke="#111" stroke-width="0.9"/>
<rect x="460.05" y="115.08" width="3" height="3" fill="#fff" stroke="#111" stroke-width="0.9"/>
<rect x="460.05" y="120.64" width="3" height="3" fill="#fff" stroke="#111" stroke-width="0.9"/>
<rect x="460.05" y="126.19" width="3" height="3" fill="#fff" stroke="#111" stroke-width="0.9"/>
<rect x="460.05" y="131.75" width="3" height="3" fill="#fff" stroke="#111" stroke-width="0.9"/>
<rect x="460.05" y="137.31" width="3" height="3" fill="#fff" stroke="#111" stroke-width="0.9"/>
<rect x="460.05" y="142.86" width="3" height="3" fill="#fff" stroke="#111" stroke-width="0.9"/>
<rect x="460.05" y="148.42" width="3" height="3" fill="#fff" stroke="#111" stroke-width="0.9"/>
<rect x="460.05" y="153.97" width="3" height="3" fill="#fff" stroke="#111" stroke-width="0.9"/>
<rect x="460.05" y="159.53" width="3" height="3" fill="#fff" stroke="#111" stroke-width="0.9"/>
<rect x="460.05" y="165.09" width="3" height="3" fill="#fff" stroke="#111" stroke-width="0.9"/>
<rect x="460.05" y="170.64" width="3" height="3" fill="#fff" stroke="#111" stroke-width="0.9"/>
<rect x="460.05" y="176.2" width="3" height="3" fill="#fff" stroke="#111" stroke-width="0.9"/>
<rect x="460.05" y="181.75" width="3" height="3" fill="#fff" stroke="#111" stroke-width="0.9"/>
<rect x="460.05" y="187.31" width="3" height="3" fill="#fff" stroke="#111" stroke-width="0.9"/>
<rect x="460.05" y="192.86" width="3" height="3" fill="#fff" stroke="#111" stroke-width="0.9"/>
<rect x="460.05" y="198.42" width="3" height="3" fill="#fff" stroke="#111" stroke-width="0.9"/>
<rect x="460.05" y="203.98" width="3" height="3" fill="#fff" stroke="#111" stroke-width="0.9"/>
<rect x="460.05" y="209.53" width="3" height="3" fill="#fff" stroke="#111" stroke-width="0.9"/>
<rect x="460.05" y="215.09" width="3" height="3" fill="#fff" stroke="#111" stroke-width="0.9"/>
<rect x="460.05" y="220.64" width="3" height="3" fill="#fff" stroke="#111" stroke-width="0.9"/>
<rect x="460.05" y="226.2" width="3" height="3" fill="#fff" stroke="#111" stroke-width="0.9"/>
<rect x="460.05" y="231.76" width="3" height="3" fill="#fff" stroke="#111" stroke-width="0.9"/>
<rect x="460.05" y="237.31" width="3" height="3" fill="#fff" stroke="#111" stroke-width="0.9"/>
<rect x="460.05" y="242.87" width="3" height="3" fill="#fff" stroke="#111" stroke-width="0.9"/>
<rect x="460.05" y="248.42" width="3" height="3" fill="#fff" stroke="#111" stroke-width="0.9"/>
<rect x="460.05" y="253.98" width="3" height="3" fill="#fff" stroke="#111" stroke-width="0.9"/>
<rect x="460.05" y="259.54" width="3" height="3" fill="#fff" stroke="#111" stroke-width="0.9"/>
<rect x="460.05" y="265.09" width="3" height="3" fill="#fff" stroke="#111" stroke-width="0.9"/>
<rect x="460.05" y="270.65" width="3" height="3" fill="#fff" stroke="#111" stroke-width="0.9"/>
<rect x="460.05" y="276.2" width="3" height="3" fill="#fff" stroke="#111" stroke-width="0.9"/>
<rect x="460.05" y="281.76" width="3" height="3" fill="#fff" stroke="#111" stroke-width="0.9"/>
<rect x="460.05" y="287.31" width="3" height="3" fill="#fff" stroke="#111" stroke-width="0.9"/>
<rect x="460.05" y="292.87" width="3" height="3" fill="#fff" stroke="#111" stroke-width="0.9"/>
<rect x="460.05" y="298.43" width="3" height="3" fill="#fff" stroke="#111" stroke-width="0.9"/>
<rect x="460.05" y="303.98" width="3" height="3" fill="#fff" stroke="#111" stroke-width="0.9"/>
<rect x="460.05" y="309.54" width="3" height="3" fill="#fff" stroke="#111" stroke-width="0.9"/>
<rect x="460.05" y="315.09" width="3" height="3" fill="#fff" stroke="#111" stroke-width="0.9"/>
<rect x="460.05" y="320.65" width="3" height="3" fill="#fff" stroke="#111" stroke-width="0.9"/>
<rect x="460.05" y="326.21" width="3" height="3" fill="#fff" stroke="#111" stroke-width="0.9"/>
<rect x="460.05" y="331.76" width="3" height="3" fill="#fff" stroke="#111" stroke-width="0.9"/>
<rect x="460.05" y="337.32" width="3" height="3" fill="#000" stroke="#111" stroke-width="0.9"/>
<rect x="460.05" y="342.87" width="3" height="3" fill="#fff" stroke="#111" stroke-width="0.9"/>
<rect x="460.05" y="348.43" width="3" height="3" fill="#fff" stroke="#111" stroke-width="0.9"/>
<rect x="460.05" y="353.99" width="3" height="3" fill="#fff" stroke="#111" stroke-width="0.9"/>
<rect x="460.05" y="359.54" width="3" height="3" fill="#fff" stroke="#111" stroke-width="0.9"/>
<rect x="460.05" y="365.1" width="3" height="3" fill="#fff" stroke="#111" stroke-width="0.9"/>
<rect x="460.05" y="370.65" width="3" height="3" fill="#fff" stroke="#111" stroke-width="0.9"/>
<rect x="460.05" y="376.21" width="3" height="3" fill="#fff" stroke="#111" stroke-width="0.9"/>
<rect x="460.05" y="381.76" width="3" height="3" fill="#fff" stroke="#111" stroke-width="0.9"/>
<rect x="460.05" y="387.32" width="3" height="3" fill="#fff" stroke="#111" stroke-width="0.9"/>
<rect x="460.05" y="392.88" width="3" height="3" fill="#fff" stroke="#111" stroke-width="0.9"/>
<rect x="460.05" y="398.43" width="3" height="3" fill="#000" stroke="#111" stroke-width="0.9"/>
<rect x="460.05" y="403.99" width="3" height="3" fill="#fff" stroke="#111" stroke-width="0.9"/>
<rect x="460.05" y="409.54" width="3" height="3" fill="#000" stroke="#111" stroke-width="0.9"/>
<rect x="460.05" y="415.1" width="3" height="3" fill="#fff" stroke="#111" stroke-width="0.9"/>
<rect x="460.05" y="420.66" width="3" height="3" fill="#fff" stroke="#111" stroke-width="0.9"/>
<rect x="460.05" y="426.21" width="3" height="3" fill="#000" stroke="#111" stroke-width="0.9"/>
<rect x="460.05" y="431.77" width="3" height="3" fill="#000" stroke="#111" stroke-width="0.9"/>
<rect x="460.05" y="437.32" width="3" height="3" fill="#000" stroke="#111" stroke-width="0.9"/>
<rect x="460.05" y="442.88" width="3" height="3" fill="#fff" stroke="#111" stroke-width="0.9"/>
<rect x="460.05" y="448.44" width="3" height="3" fill="#fff" stroke="#111" stroke-width="0.9"/>
<rect x="460.05" y="453.99" width="3" height="3" fill="#fff" stroke="#111" stroke-width="0.9"/>
<rect x="460.05" y="459.55" width="3" height="3" fill="#fff" stroke="#111" stroke-width="0.9"/>
<rect x="460.05" y="465.1" width="3" height="3" fill="#000" stroke="#111" stroke-width="0.9"/>
<rect x="460.05" y="470.66" width="3" height="3" fill="#fff" stroke="#111" stroke-width="0.9"/>
<rect x="460.05" y="476.21" width="3" height="3" fill="#fff" stroke="#111" stroke-width="0.9"/>
<rect x="460.05" y="481.77" width="3" height="3" fill="#fff" stroke="#111" stroke-width="0.9"/>
<rect x="460.05" y="487.33" width="3" height="3" fill="#fff" stroke="#111" stroke-width="0.9"/>
<rect x="460.05" y="492.88" width="3" height="3" fill="#fff" stroke="#111" stroke-width="0.9"/>
<rect x="460.05" y="498.44" width="3" height="3" fill="#fff" stroke="#111" stroke-width="0.9"/>
<rect x="460.05" y="503.99" width="3" height="3" fill="#fff" stroke="#111" stroke-width="0.9"/>
<rect x="460.05" y="509.55" width="3" height="3" fill="#fff" stroke="#111" stroke-width="0.9"/>
<rect x="460.05" y="515.11" width="3" height="3" fill="#fff" stroke="#111" stroke-width="0.9"/>
<rect x="460.05" y="520.66" width="3" height="3" fill="#fff" stroke="#111" stroke-width="0.9"/>
<rect x="460.05" y="526.22" width="3" height="3" fill="#fff" stroke="#111" stroke-width="0.9"/>
<rect x="460.05" y="531.77" width="3" height="3" fill="#fff" stroke="#111" stroke-width="0.9"/>
<rect x="460.05" y="537.33" width="3" height="3" fill="#fff" stroke="#111" stroke-width="0.9"/>
<rect x="460.05" y="542.89" width="3" height="3" fill="#fff" stroke="#111" stroke-width="0.9"/>
<rect x="460.05" y="548.44" width="3" height="3" fill="#fff" stroke="#111" stroke-width="0.9"/>
<rect x="460.05" y="554" width="3" height="3" fill="#fff" stroke="#111" stroke-width="0.9"/>
<rect x="460.05" y="559.55" width="3" height="3" fill="#fff" stroke="#111" stroke-width="0.9"/>
<rect x="460.05" y="565.11" width="3" height="3" fill="#fff" stroke="#111" stroke-width="0.9"/>
<rect x="460.05" y="570.66" width="3" height="3" fill="#fff" stroke="#111" stroke-width="0.9"/>
<rect x="460.05" y="576.22" width="3" height="3" fill="#fff" stroke="#111" stroke-width="0.9"/>
<rect x="460.05" y="581.78" width="3" height="3" fill="#fff" stroke="#111" stroke-width="0.9"/>
<rect x="460.05" y="587.33" width="3" height="3" fill="#fff" stroke="#111" stroke-width="0.9"/>
<rect x="460.05" y="592.89" width="3" height="3" fill="#fff" stroke="#111" stroke-width="0.9"/>
<rect x="460.05" y="598.44" width="3" height="3" fill="#fff" stroke="#111" stroke-width="0.9"/>
<rect x="460.05" y="604" width="3" height="3" fill="#fff" stroke="#111" stroke-width="0.9"/>
<rect x="460.05" y="609.56" width="3" height="3" fill="#fff" stroke="#111" stroke-width="0.9"/>
<rect x="460.05" y="615.11" width="3" height="3" fill="#fff" stroke="#111" stroke-width="0.9"/>
<rect x="460.05" y="620.67" width="3" height="3" fill="#fff" stroke="#111" stroke-width="0.9"/>
<rect x="460.05" y="626.22" width="3" height="3" fill="#fff" stroke="#111" stroke-width="0.9"/>
<rect x="460.05" y="631.78" width="3" height="3" fill="#fff" stroke="#111" stroke-width="0.9"/>
<rect x="460.05" y="637.34" width="3" height="3" fill="#fff" stroke="#111" stroke-width="0.9"/>
<rect x="460.05" y="642.89" width="3" height="3" fill="#fff" stroke="#111" stroke-width="0.9"/>
<rect x="460.05" y="648.45" width="3" height="3" fill="#fff" stroke="#111" stroke-width="0.9"/>
<rect x="460.05" y="654" width="3" height="3" fill="#fff" stroke="#111" stroke-width="0.9"/>
<rect x="460.05" y="659.56" width="3" height="3" fill="#fff" stroke="#111" stroke-width="0.9"/>
<rect x="460.05" y="665.11" width="3" height="3" fill="#fff" stroke="#111" stroke-width="0.9"/>
<rect x="460.05" y="670.67" width="3" height="3" fill="#fff" stroke="#111" stroke-width="0.9"/>
<rect x="460.05" y="676.23" width="3" height="3" fill="#fff" stroke="#111" stroke-width="0.9"/>
<rect x="460.05" y="681.78" width="3" height="3" fill="#fff" stroke="#111" stroke-width="0.9"/>
<rect x="460.05" y="687.34" width="3" height="3" fill="#fff" stroke="#111" stroke-width="0.9"/>
<rect x="460.05" y="692.89" width="3" height="3" fill="#fff" stroke="#111" stroke-width="0.9"/>
<rect x="460.05" y="698.45" width="3" height="3" fill="#fff" stroke="#111" stroke-width="0.9"/>
</g>
<g font-family="'Liberation Sans', Arial, sans-serif" font-size="7.9" text-anchor="middle" fill="#111" stroke="#111" stroke-width="0.22" text-rendering="geometricPrecision">
<text x="404.1" y="42.5">Latrodectus</text>
<text x="404.1" y="48.06">Steatoda</text>
<text x="404.1" y="53.61">Enoplognatha</text>
<text x="404.1" y="59.17">Phoroncidia</text>
<text x="404.1" y="64.72">Rhomphaea</text>
<text x="404.1" y="70.28">Ariamnes</text>
<text x="404.1" y="75.84">Argyrodes</text>
<text x="404.1" y="81.39">Dipoena</text>
<text x="404.1" y="86.95">Euryopis</text>
<text x="404.1" y="92.5">Thwaitesia</text>
<text x="404.1" y="98.06">Episinus</text>
<text x="404.1" y="103.61">Chrosiothes</text>
<text x="404.1" y="109.17">Spintharus</text>
<text x="404.1" y="114.73">Pholcomma</text>
<text x="404.1" y="120.28">Robertus</text>
<text x="404.1" y="125.84">Cerocida</text>
<text x="404.1" y="131.39">Styposis</text>
<text x="404.1" y="136.95">Anelosimus</text>
<text x="404.1" y="142.51">Helvibis</text>
<text x="404.1" y="148.06">Chrysso</text>
<text x="404.1" y="153.62">Theridion</text>
<text x="404.1" y="159.17">Keijia</text>
<text x="404.1" y="164.73">Coleosoma</text>
<text x="404.1" y="170.29">Thymoites</text>
<text x="404.1" y="175.84">Neottiura</text>
<text x="404.1" y="181.4">Tidarren</text>
<text x="404.1" y="186.95">Achaearanea</text>
<text x="404.1" y="192.51">Takayus</text>
<text x="404.1" y="198.06">Echinotheridion</text>
<text x="404.1" y="203.62">Nesticodes</text>
<text x="404.1" y="209.18">Epeirotypus</text>
<text x="404.1" y="214.73">Synotaxus</text>
<text x="404.1" y="220.29">Theridiosoma</text>
<text x="404.1" y="225.84">Anapisona</text>
<text x="404.1" y="231.4">Gertschanapis</text>
<text x="404.1" y="236.96">Maymena</text>
<text x="404.1" y="242.51">Trogloneta</text>
<text x="404.1" y="248.07">Mysmena</text>
<text x="404.1" y="253.62">Mimetus</text>
<text x="404.1" y="259.18">Azilia</text>
<text x="404.1" y="264.74">Mollemeta</text>
<text x="404.1" y="270.29">Allende</text>
<text x="404.1" y="275.85">Chrysometa</text>
<text x="404.1" y="281.4">Cyrtognatha</text>
<text x="404.1" y="286.96">Pachygnatha</text>
<text x="404.1" y="292.51">Tetragnatha</text>
<text x="404.1" y="298.07">Meta</text>
<text x="404.1" y="303.63">Dolichognatha</text>
<text x="404.1" y="309.18">Metellina</text>
<text x="404.1" y="314.74">Nanometa</text>
<text x="404.1" y="320.29">Leucauge</text>
<text x="404.1" y="325.85">Opadometa</text>
<text x="404.1" y="331.41">Metabus</text>
<text x="404.1" y="336.96">Tylorida</text>
<text x="404.1" y="342.52">Herennia</text>
<text x="404.1" y="348.07">Nephilengys</text>
<text x="404.1" y="353.63">Nephila</text>
<text x="404.1" y="359.19">Nephilingis</text>
<text x="404.1" y="364.74">Clitaetra</text>
<text x="404.1" y="370.3">Nephila_9</text>
<text x="404.1" y="375.85">Leviellus</text>
<text x="404.1" y="381.41">Zygiella</text>
<text x="404.1" y="386.96">Deliochus</text>
<text x="404.1" y="392.52">Phonognatha</text>
<text x="404.1" y="398.08">Acusilas</text>
<text x="404.1" y="403.63">Caerostris</text>
<text x="404.1" y="409.19">Gnolus</text>
<text x="404.1" y="414.74">Micrathena</text>
<text x="404.1" y="420.3">Acanthepeira</text>
<text x="404.1" y="425.86">Cyclosa</text>
<text x="404.1" y="431.41">Gasteracantha</text>
<text x="404.1" y="436.97">Arachnura</text>
<text x="404.1" y="442.52">Argiope</text>
<text x="404.1" y="448.08">Cyrtophora</text>
<text x="404.1" y="453.64">Mecynogea</text>
<text x="404.1" y="459.19">Manogea</text>
<text x="404.1" y="464.75">Mastophora</text>
<text x="404.1" y="470.3">Poltys</text>
<text x="404.1" y="475.86">Araneus</text>
<text x="404.1" y="481.41">Larinioides</text>
<text x="404.1" y="486.97">Metepeira</text>
<text x="404.1" y="492.53">Neoscona</text>
<text x="404.1" y="498.08">Eidmanella</text>
<text x="404.1" y="503.64">Nesticus</text>
<text x="404.1" y="509.19">Acrobleps</text>
<text x="404.1" y="514.75">Patu</text>
<text x="404.1" y="520.31">Symphytognatha</text>
<text x="404.1" y="525.86">Nanoa</text>
<text x="404.1" y="531.42">Pimoa</text>
<text x="404.1" y="536.97">Stemonyphantes</text>
<text x="404.1" y="542.53">Weintrauboa</text>
<text x="404.1" y="548.09">Alaranea</text>
<text x="404.1" y="553.64">Labulla</text>
<text x="404.1" y="559.2">Floronia</text>
<text x="404.1" y="564.75">Drapetisca</text>
<text x="404.1" y="570.31">Bolyphantes</text>
<text x="404.1" y="575.86">Lepthyphantes</text>
<text x="404.1" y="581.42">Tenuiphantes</text>
<text x="404.1" y="586.98">Gongylidiellum</text>
<text x="404.1" y="592.53">Microneta</text>
<text x="404.1" y="598.09">Ostearius</text>
<text x="404.1" y="603.64">Gonatium</text>
<text x="404.1" y="609.2">Oedothorax</text>
<text x="404.1" y="614.76">Agyneta</text>
<text x="404.1" y="620.31">Meioneta</text>
<text x="404.1" y="625.87">Erigone</text>
<text x="404.1" y="631.42">Helophora</text>
<text x="404.1" y="636.98">Notholepthyphantes</text>
<text x="404.1" y="642.54">Linyphia</text>
<text x="404.1" y="648.09">Microlinyphia</text>
<text x="404.1" y="653.65">Neriene</text>
<text x="404.1" y="659.2">Frontinella</text>
<text x="404.1" y="664.76">Dubiaranea</text>
<text x="404.1" y="670.31">Orsonwelles</text>
<text x="404.1" y="675.87">Pocobletus</text>
<text x="404.1" y="681.43">Laetesia</text>
<text x="404.1" y="686.98">Diplostyla</text>
<text x="404.1" y="692.54">Bathyphantes</text>
<text x="404.1" y="698.09">Australolinyphia</text>
<text x="404.1" y="703.65">Novafroneta</text>
</g>
<g font-family="'Liberation Sans', Arial, sans-serif" fill="#111" stroke="#111" stroke-width="0.2" text-rendering="geometricPrecision">
<text x="181.6" y="15.4" font-size="17.2" text-anchor="middle">Evolution of SSD</text>
<text x="634.2" y="15.4" font-size="17.2" text-anchor="middle">Evolution of SShD</text>
<text x="5.8" y="626.5" font-size="13.6">SSD values (F/M)</text>
<rect x="11.5" y="641.1" width="11.2" height="6.2" fill="#00ccff" stroke="#444" stroke-width="0.8"/>
<text x="28.6" y="648.5" font-size="12.3">0.9 to 2.0</text>
<rect x="11.5" y="654.55" width="11.2" height="6.2" fill="#00f266" stroke="#444" stroke-width="0.8"/>
<text x="28.6" y="661.95" font-size="12.3">2.0 to 4.0</text>
<rect x="11.5" y="668" width="11.2" height="6.2" fill="#ffff00" stroke="#444" stroke-width="0.8"/>
<text x="28.6" y="675.4" font-size="12.3">4.0 to 6.0</text>
<rect x="11.5" y="681.45" width="11.2" height="6.2" fill="#ffe600" stroke="#444" stroke-width="0.8"/>
<path d="M14 683.95h6.5M14.5 685.45h5.5" stroke="#8a8a70" stroke-width="0.7" stroke-dasharray="0.8 0.8" fill="none"/>
<text x="28.6" y="688.85" font-size="12.3">6.0 to 8.0</text>
<rect x="11.5" y="694.9" width="11.2" height="6.2" fill="#aa0a14" stroke="#aa0a14" stroke-width="0.8"/>
<text x="28.6" y="702.3" font-size="12.3">8.0 to 11.0</text>
<text x="775" y="666.4" font-size="13.2">SShD</text>
<rect x="775.6" y="679.8" width="11.4" height="6.4" fill="#fff" stroke="#333" stroke-width="0.9"/>
<text x="789.8" y="685.6" font-size="12">no</text>
<rect x="775.2" y="694.2" width="12.2" height="7" fill="#000"/>
<text x="789.8" y="700" font-size="12">yes</text>
</g>
</svg>
</body></html>
